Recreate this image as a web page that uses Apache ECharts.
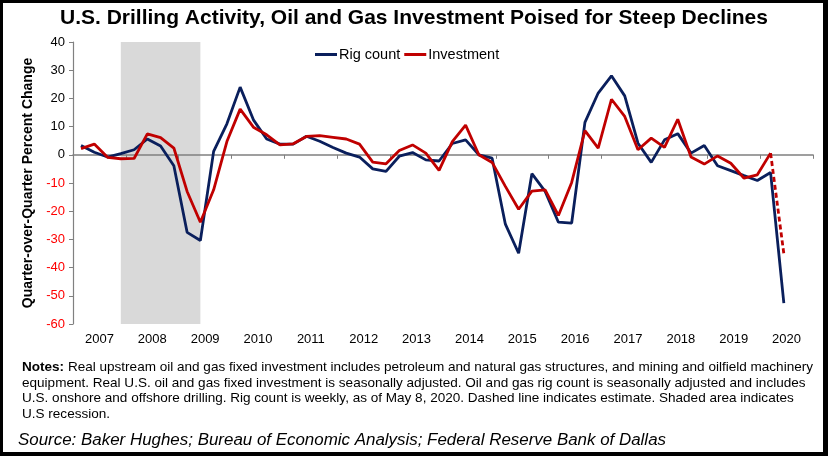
<!DOCTYPE html>
<html>
<head>
<meta charset="utf-8">
<script src="https://cdn.jsdelivr.net/npm/echarts@6/dist/echarts.min.js"></script>
<style>
  html, body { margin: 0; padding: 0; background: #fff; }
  #chart { width: 828px; height: 456px; }
</style>
</head>
<body>
<div id="chart"></div>
<script>
var FONT = '"Liberation Sans", Arial, sans-serif';

var years = [2007, 2008, 2009, 2010, 2011, 2012, 2013, 2014, 2015, 2016, 2017, 2018, 2019, 2020];
var quarters = [];
years.forEach(function (y) {
  [1, 2, 3, 4].forEach(function (q) { quarters.push(y + 'Q' + q); });
});

// quarter-over-quarter % change, 2007Q1 .. 2020Q2
var rigCount = [
  3.3, 0.9, -0.8, 0.4, 1.8, 5.6, 3.1, -3.9, -27.5, -30.4,
  1.2, 11.0, 24.0, 12.4, 5.6, 3.8, 3.8, 6.6, 4.8, 2.6,
  0.6, -0.8, -5.0, -5.9, -0.5, 0.8, -1.8, -2.2, 4.0, 5.3,
  0.0, -1.2, -24.6, -34.9, -6.7, -13.0, -23.9, -24.2, 11.5, 21.9,
  28.0, 20.9, 4.1, -2.7, 5.3, 7.5, 0.6, 3.3, -3.9, -5.6,
  -7.4, -9.1, -6.3, -52.6
];
// 2007Q1 .. 2020Q1
var investment = [
  2.2, 3.8, -0.9, -1.4, -1.3, 7.4, 6.1, 2.4, -13.0, -23.9,
  -12.4, 4.7, 16.2, 9.8, 7.1, 3.5, 3.9, 6.5, 6.8, 6.2,
  5.6, 3.8, -2.6, -3.2, 1.5, 3.5, 0.6, -5.5, 4.7, 10.5,
  0.0, -2.7, -11.2, -19.3, -12.9, -12.4, -21.5, -9.8, 8.6, 2.4,
  19.7, 13.6, 1.8, 5.9, 2.6, 12.6, -0.8, -3.3, -0.4, -3.0,
  -8.3, -7.1, 0.6
];
var estimateQuarters = ['2020Q1', '2020Q2'];
var investmentEstimate = [0.6, -35.1];
var recession = ['2007Q4', '2009Q2'];

var yearTicks = years.map(function (y) { return y + 1; });
var yearLabels = years.map(function (y) { return y + 0.5; });

var notes = [
  ['Notes:', ' Real upstream oil and gas fixed investment includes petroleum and natural gas structures, and mining and oilfield machinery'],
  ['', 'equipment. Real U.S. oil and gas fixed investment is seasonally adjusted. Oil and gas rig count is seasonally adjusted and includes'],
  ['', 'U.S. onshore and offshore drilling. Rig count is weekly, as of May 8, 2020. Dashed line indicates estimate. Shaded area indicates'],
  ['', 'U.S recession.']
];
var source = 'Source: Baker Hughes; Bureau of Economic Analysis; Federal Reserve Bank of Dallas';

// measure text to fit the reference widths
var ctx = document.createElement('canvas').getContext('2d');
function textWidth(str, font) { ctx.font = font; return ctx.measureText(str).width; }
var noteSize = 13;
var line1W = textWidth(notes[0][0], 'bold ' + noteSize + 'px ' + FONT) + textWidth(notes[0][1], noteSize + 'px ' + FONT);
var noteScale = 791 / line1W;
var srcSize = 16;
var srcScale = 648 / textWidth(source, 'italic ' + srcSize + 'px ' + FONT);

var graphics = [
  {
    type: 'rect', z: -100, silent: true,
    shape: { x: 3, y: 3, width: 820, height: 449 },
    style: { fill: '#ffffff' }
  },
  {
    type: 'text', x: 414, y: 18,
    style: {
      text: 'U.S. Drilling Activity, Oil and Gas Investment Poised for Steep Declines',
      fontFamily: FONT, fontSize: 21, fontWeight: 'bold', fill: '#000',
      textAlign: 'center', textVerticalAlign: 'middle'
    }
  },
  {
    type: 'text', x: 18, y: 441, scaleX: srcScale,
    style: {
      text: source, fontFamily: FONT, fontSize: srcSize, fontStyle: 'italic',
      fill: '#000', textVerticalAlign: 'middle'
    }
  }
];
notes.forEach(function (ln, i) {
  graphics.push({
    type: 'text', x: 22, y: 367.5 + i * 15.6, scaleX: noteScale,
    style: {
      text: (ln[0] ? '{b|' + ln[0] + '}' : '') + ln[1],
      fontFamily: FONT, fontSize: noteSize, fill: '#000',
      textVerticalAlign: 'middle',
      rich: { b: { fontFamily: FONT, fontSize: noteSize, fontWeight: 'bold', fill: '#000' } }
    }
  });
});

var myChart = echarts.init(document.getElementById('chart'));
var options = {
  backgroundColor: '#000',
  animation: false,
  textStyle: { fontFamily: FONT },
  legend: {
    data: ['Rig count', 'Investment'],
    left: 310, top: 42,
    icon: 'rect', itemWidth: 22, itemHeight: 3, itemGap: 4,
    textStyle: { fontSize: 14.5, color: '#000', padding: [0, 0, 0, -3] }
  },
  grid: [
    { left: 73, right: 15, top: 42, bottom: 132 },
    { left: 74.4, right: 11, top: 42, bottom: 132 }
  ],
  xAxis: [
    {
      // year labels at the bottom
      type: 'value', gridIndex: 0, min: 2007, max: 2021, position: 'bottom',
      axisLine: { show: false, onZero: false },
      axisTick: { show: false },
      splitLine: { show: false },
      axisLabel: {
        customValues: yearLabels, margin: 9, fontSize: 13, color: '#000',
        formatter: function (v) { return String(Math.floor(v)); }
      }
    },
    {
      // zero line with year ticks
      type: 'value', gridIndex: 0, min: 2007, max: 2021, position: 'top', z: 3,
      axisLine: { onZero: true, lineStyle: { color: '#808080', width: 1.5 } },
      axisTick: { customValues: yearTicks, inside: true, length: 4, lineStyle: { color: '#808080' } },
      axisLabel: { show: false },
      splitLine: { show: false }
    },
    {
      type: 'category', gridIndex: 1, data: quarters, boundaryGap: true, show: false
    }
  ],
  yAxis: [
    {
      type: 'value', gridIndex: 0, min: -60, max: 40, interval: 10,
      name: 'Quarter-over-Quarter Percent Change',
      nameLocation: 'middle', nameGap: 38,
      nameTextStyle: { fontSize: 14, fontWeight: 'bold', color: '#000' },
      axisLine: { show: true, lineStyle: { color: '#808080', width: 1.2 } },
      axisTick: { show: true, length: 4, lineStyle: { color: '#808080' } },
      splitLine: { show: false },
      axisLabel: {
        fontSize: 13, margin: 8,
        color: function (v) { return Number(v) < 0 ? '#ff0000' : '#000000'; }
      }
    },
    { type: 'value', gridIndex: 1, min: -60, max: 40, show: false }
  ],
  series: [
    {
      name: 'recession', type: 'line', xAxisIndex: 2, yAxisIndex: 1, z: 1,
      data: [], silent: true,
      markArea: {
        silent: true,
        itemStyle: { color: '#d9d9d9' },
        data: [[{ xAxis: recession[0] }, { xAxis: recession[1] }]]
      }
    },
    {
      name: 'Rig count', type: 'line', xAxisIndex: 2, yAxisIndex: 1, z: 5,
      data: rigCount, symbol: 'none',
      lineStyle: { color: '#0a1f5c', width: 2.8 },
      itemStyle: { color: '#0a1f5c' }
    },
    {
      name: 'Investment', type: 'line', xAxisIndex: 2, yAxisIndex: 1, z: 6,
      data: investment, symbol: 'none',
      lineStyle: { color: '#c00000', width: 2.8 },
      itemStyle: { color: '#c00000' }
    },
    {
      name: 'Investment estimate', type: 'line', xAxisIndex: 2, yAxisIndex: 1, z: 6,
      data: estimateQuarters.map(function (q, i) { return [q, investmentEstimate[i]]; }),
      symbol: 'none',
      lineStyle: { color: '#c00000', width: 2.8, type: [5, 3] }
    }
  ],
  graphic: graphics
};
myChart.setOption(options);
</script>
</body>
</html>
